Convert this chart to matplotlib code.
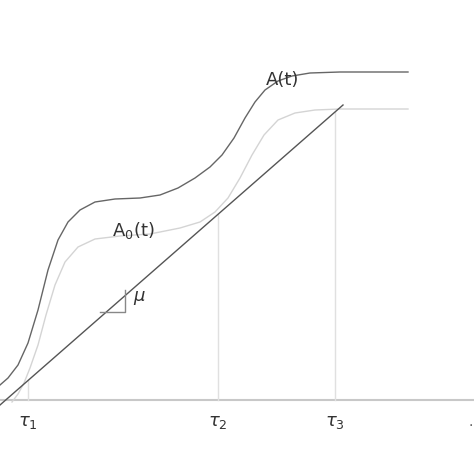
import matplotlib
matplotlib.use("Agg")
import matplotlib.pyplot as plt

# curve points (pixel-like coordinates, y downward)
a_x = [0, 8, 18, 28, 38, 48, 58, 68, 80, 95, 115, 140, 160, 178, 195, 210, 222, 234, 245, 255, 265, 278, 292, 310, 340, 375, 408]
a_y = [385, 378, 365, 343, 310, 270, 240, 222, 210, 202, 199, 198, 195, 188, 178, 167, 155, 138, 118, 102, 90, 81, 76, 73, 72, 72, 72]
a0_x = [12, 18, 24, 30, 38, 46, 55, 65, 78, 95, 120, 150, 180, 200, 215, 228, 240, 252, 264, 278, 295, 315, 340, 375, 408]
a0_y = [402, 394, 383, 368, 345, 315, 285, 262, 247, 239, 236, 234, 228, 222, 212, 198, 178, 155, 135, 120, 113, 110, 109, 109, 109]
line_x = [0, 343]
line_y = [405, 105]
tau_x = [28, 218, 335]
tau_top = [380, 214, 112]
tau_labels = [r"$\tau_1$", r"$\tau_2$", r"$\tau_3$"]

fig = plt.figure(figsize=(4.74, 4.74), dpi=100)
ax = fig.add_axes([0, 0, 1, 1])
ax.set_xlim(0, 474)
ax.set_ylim(474, 0)
ax.axis("off")

ax.plot([0, 474], [400, 400], color="#c8c8c8", lw=1.5)
for x, t, lab in zip(tau_x, tau_top, tau_labels):
    ax.plot([x, x], [t, 400], color="#e0e0e0", lw=1)
    ax.text(x, 422, lab, ha="center", va="center", fontsize=13, color="#333333")
ax.plot(a0_x, a0_y, color="#d4d4d4", lw=1)
ax.plot(a_x, a_y, color="#666666", lw=1)
ax.plot(line_x, line_y, color="#555555", lw=1)
ax.plot([100, 125, 125], [312, 312, 290], color="#888888", lw=1)
ax.text(133, 298, r"$\mu$", fontsize=13, va="center", color="#333333")
ax.text(266, 80, "A(t)", fontsize=13, va="center", color="#333333")
ax.text(112, 230, r"A$_0$(t)", fontsize=13, va="center", color="#333333")
ax.text(471, 422, ".", fontsize=10, ha="center", va="center", color="#555555")
fig.savefig("out.png", dpi=100)
